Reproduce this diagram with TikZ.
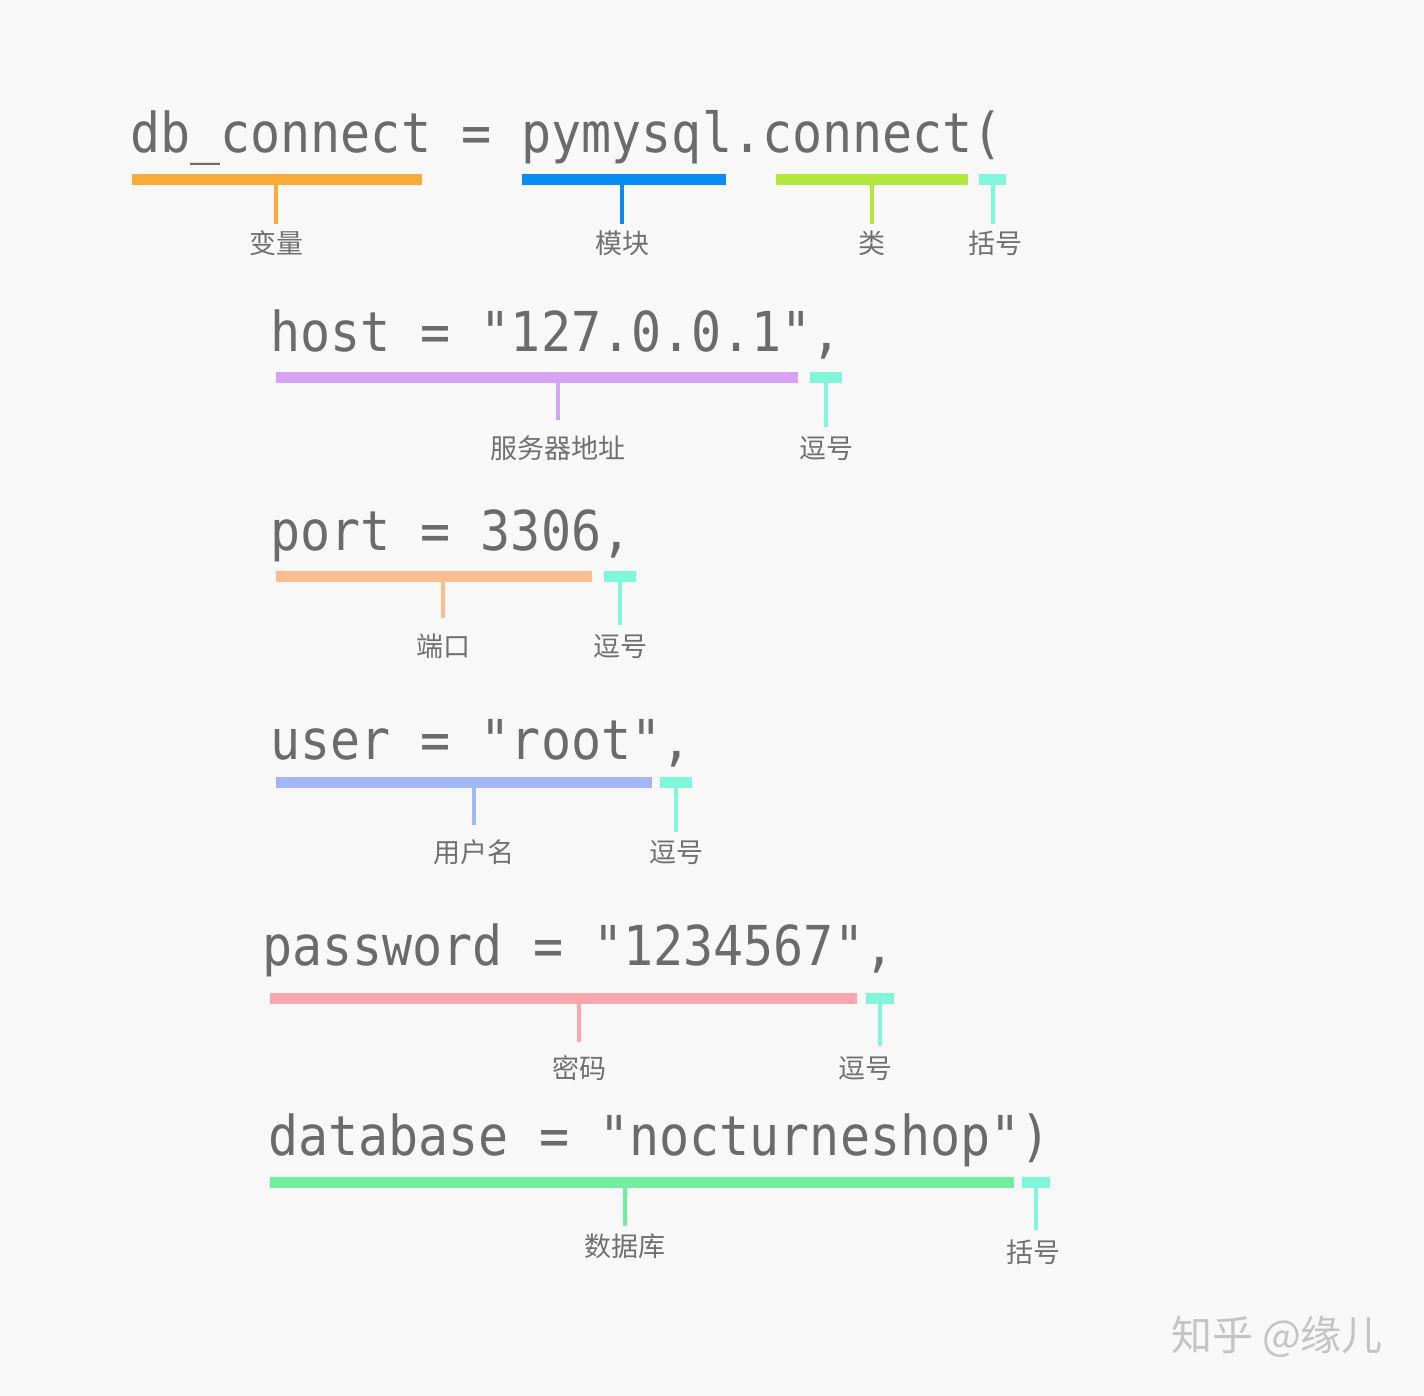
\documentclass[tikz,border=0pt]{standalone}
\usepackage{fontspec}
\usetikzlibrary{calc}
\newfontfamily\codefont[FakeStretch=0.909]{DejaVu Sans Mono}
\newfontfamily\cjk{Noto Sans CJK SC}
\definecolor{bgc}{HTML}{F8F8F8}
\definecolor{codec}{HTML}{6B6B6B}
\definecolor{labc}{HTML}{707070}
\definecolor{cOrange}{HTML}{F9AC37}
\definecolor{cBlue}{HTML}{0A8DF2}
\definecolor{cLime}{HTML}{B3E83D}
\definecolor{cTeal}{HTML}{80F6DA}
\definecolor{cPurple}{HTML}{D8A2F5}
\definecolor{cPeach}{HTML}{F9BD8E}
\definecolor{cLav}{HTML}{A3B6F6}
\definecolor{cPink}{HTML}{FEA5AE}
\definecolor{cGreen}{HTML}{72EEA0}
\definecolor{wmc}{HTML}{C4C4C4}
\begin{document}
\begin{tikzpicture}[x=1pt,y=-1pt,
  code/.style={font=\codefont\fontsize{55}{60}\selectfont, text=codec, anchor=base west, inner sep=0pt},
  lab/.style={font=\cjk\fontsize{27}{30}\selectfont, text=labc, inner sep=0pt, text height=23pt, text depth=3pt},
  bar/.style={fill=#1, draw=none, minimum height=11pt, inner sep=0pt, outer sep=0pt, anchor=west},
  stem/.style={draw=#1, line width=4pt},
  wmark/.style={font=\cjk\fontsize{41}{44}\selectfont, inner sep=0pt}]
\fill[bgc] (0,0) rectangle (1424,1396);
\useasboundingbox (0,0) rectangle (1424,1396);

% ---------- row 1
\node[code] (c1) at (130,153) {db\_connect = pymysql.connect(};
\node[bar=cOrange, minimum width=290pt] (b1a) at (132,180) {};
\node[bar=cBlue, minimum width=204pt] (b1b) at (522,180) {};
\node[bar=cLime, minimum width=192pt] (b1c) at (776,180) {};
\node[bar=cTeal, minimum width=27pt] (t1) at (979,180) {};
\node[lab] (l1a) at (276,244) {变量};
\node[lab] (l1b) at (622,244) {模块};
\node[lab] (l1c) at (872,244) {类};
\node[lab] (l1d) at (995,244) {括号};
\draw[stem=cOrange] (l1a.north |- b1a.south) -- ($(l1a.north)+(0,-7)$);
\draw[stem=cBlue] (l1b.north |- b1b.south) -- ($(l1b.north)+(0,-7)$);
\draw[stem=cLime] (l1c.north |- b1c.south) -- ($(l1c.north)+(0,-7)$);
\draw[stem=cTeal] (t1.south) -- ($(t1.south |- l1d.north)+(0,-7)$);

% ---------- row 2
\node[code] (c2) at (270,352) {host = "127.0.0.1",};
\node[bar=cPurple, minimum width=522pt] (b2) at (276,378) {};
\node[bar=cTeal, minimum width=32pt] (t2) at (810,378) {};
\node[lab] (l2a) at (558,448) {服务器地址};
\node[lab] (l2b) at (826,448) {逗号};
\draw[stem=cPurple] (l2a.north |- b2.south) -- ($(l2a.north)+(0,-15)$);
\draw[stem=cTeal] (t2.south) -- ($(t2.south |- l2b.north)+(0,-8)$);

% ---------- row 3
\node[code] (c3) at (270,550) {port = 3306,};
\node[bar=cPeach, minimum width=316pt] (b3) at (276,576) {};
\node[bar=cTeal, minimum width=32pt] (t3) at (604,576) {};
\node[lab] (l3a) at (443,646) {端口};
\node[lab] (l3b) at (620,646) {逗号};
\draw[stem=cPeach] (l3a.north |- b3.south) -- ($(l3a.north)+(0,-15)$);
\draw[stem=cTeal] (t3.south) -- ($(t3.south |- l3b.north)+(0,-8)$);

% ---------- row 4
\node[code] (c4) at (270,759) {user = "root",};
\node[bar=cLav, minimum width=376pt] (b4) at (276,782) {};
\node[bar=cTeal, minimum width=32pt] (t4) at (660,782) {};
\node[lab] (l4a) at (474,852) {用户名};
\node[lab] (l4b) at (676,852) {逗号};
\draw[stem=cLav] (l4a.north |- b4.south) -- ($(l4a.north)+(0,-14)$);
\draw[stem=cTeal] (t4.south) -- ($(t4.south |- l4b.north)+(0,-7)$);

% ---------- row 5
\node[code] (c5) at (262,965) {password = "1234567",};
\node[bar=cPink, minimum width=587pt] (b5) at (270,998) {};
\node[bar=cTeal, minimum width=28pt] (t5) at (866,998) {};
\node[lab] (l5a) at (579,1068) {密码};
\node[lab] (l5b) at (865,1068) {逗号};
\draw[stem=cPink] (l5a.north |- b5.south) -- ($(l5a.north)+(0,-13)$);
\draw[stem=cTeal] (t5.south) -- ($(t5.south |- l5b.north)+(0,-9)$);

% ---------- row 6
\node[code] (c6) at (268,1155) {database = "nocturneshop")};
\node[bar=cGreen, minimum width=744pt] (b6) at (270,1182) {};
\node[bar=cTeal, minimum width=28pt] (t6) at (1022,1182) {};
\node[lab] (l6a) at (625,1246) {数据库};
\node[lab] (l6b) at (1033,1252) {括号};
\draw[stem=cGreen] (l6a.north |- b6.south) -- ($(l6a.north)+(0,-7)$);
\draw[stem=cTeal] (t6.south) -- ($(t6.south |- l6b.north)+(0,-9)$);

% ---------- watermark
\node[wmark, text=wmc] (wm) at (1277,1337) {知乎 @缘儿};
\end{tikzpicture}
\end{document}
